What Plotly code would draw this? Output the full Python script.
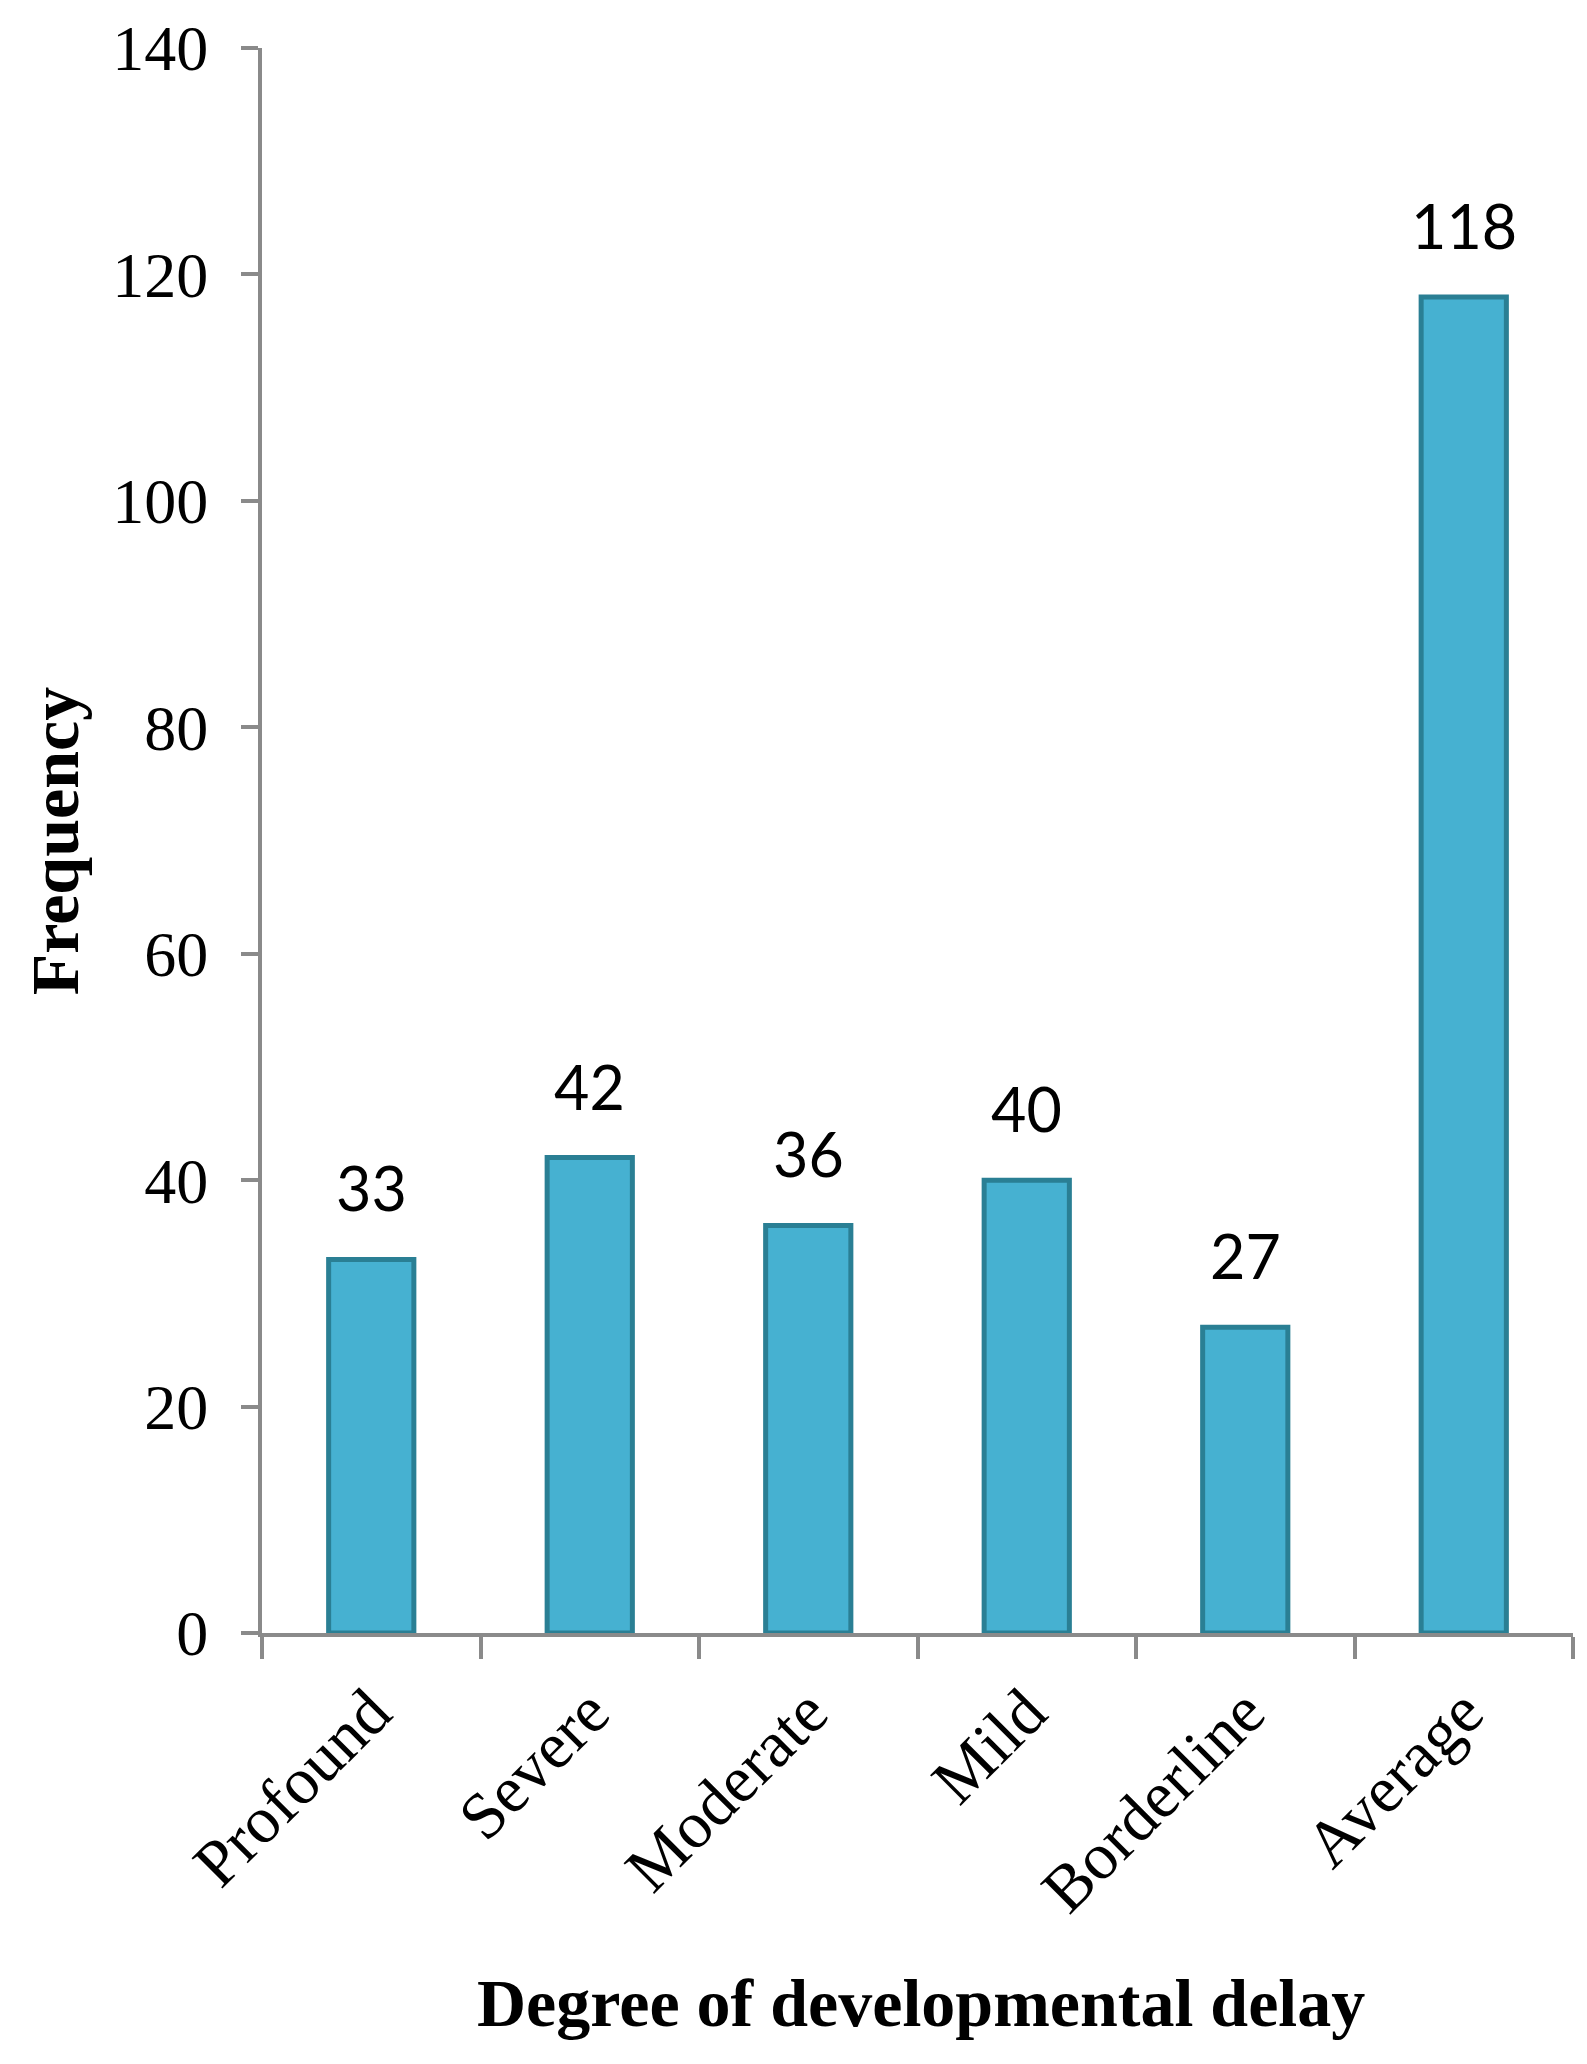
import plotly.graph_objects as go

categories = ["Profound", "Severe", "Moderate", "Mild", "Borderline", "Average"]
frequency = [33, 42, 36, 40, 27, 118]
y_ticks = [0, 20, 40, 60, 80, 100, 120, 140]

serif = "Liberation Serif, Times New Roman, serif"
axis_gray = "#8a8a8a"

fig = go.Figure()
fig.add_trace(go.Bar(
    x=categories, y=frequency,
    width=0.39,
    marker=dict(color="#46B1D1", line=dict(color="#2A7F94", width=5)),
    hoverinfo="x+y",
))

for c, v in zip(categories, frequency):
    fig.add_annotation(x=c, y=v, text=str(v), showarrow=False,
                       yanchor="bottom", yshift=33,
                       font=dict(family="Lato, Carlito, sans-serif", size=61, color="black"))

fig.add_annotation(text="<b>Frequency</b>", xref="paper", yref="paper",
                   x=-0.158, y=0.5, textangle=-90, showarrow=False,
                   xanchor="center", yanchor="middle",
                   font=dict(family=serif, size=68, color="black"))
fig.add_annotation(text="<b>Degree of developmental delay</b>", xref="paper", yref="paper",
                   x=0.503, y=-0.2334, showarrow=False,
                   xanchor="center", yanchor="middle",
                   font=dict(family=serif, size=68, color="black"))

fig.update_layout(
    width=1587, height=2064,
    margin=dict(l=262, r=14, t=48, b=431),
    paper_bgcolor="white", plot_bgcolor="white",
    showlegend=False,
    bargap=0.61,
)
fig.update_xaxes(
    type="category", tickson="boundaries",
    showline=True, linecolor=axis_gray, linewidth=4,
    ticks="outside", ticklen=22, tickwidth=4, tickcolor=axis_gray,
    tickangle=-45, showgrid=False, zeroline=False,
    ticklabelstandoff=10,
    tickfont=dict(family=serif, size=66, color="black"),
)
fig.update_yaxes(
    range=[0, 140], tickvals=y_ticks,
    showline=True, linecolor=axis_gray, linewidth=4,
    ticks="outside", ticklen=17, tickwidth=4, tickcolor=axis_gray,
    showgrid=False, zeroline=False,
    ticklabelstandoff=20,
    tickfont=dict(family=serif, size=64, color="black"),
)

fig.write_html("out.html")
